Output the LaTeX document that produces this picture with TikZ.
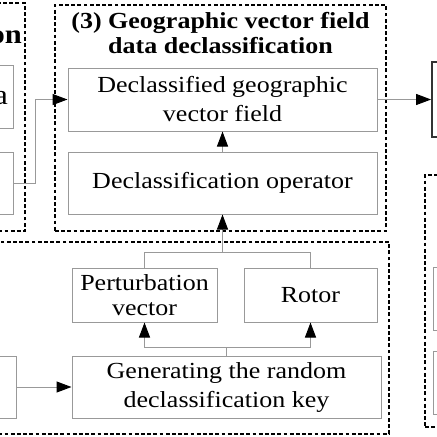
\documentclass[tikz,border=0pt]{standalone}
\usepackage{fontspec}
\setmainfont{Liberation Serif}[FakeStretch=1.13]
\usetikzlibrary{arrows.meta}
\begin{document}
\begin{tikzpicture}[x=1pt,y=-1pt,
  box/.style={draw=gray!80, line width=1pt, rectangle, inner sep=0pt, align=center,
    font=\fontsize{23}{29}\selectfont},
  darkbox/.style={draw=black!80, line width=1.8pt, rectangle, inner sep=0pt},
  group/.style={draw=black, line width=2.6pt, dash pattern=on 3.8pt off 2.4pt, rectangle, inner sep=0pt},
  conn/.style={draw=gray!80, line width=1pt},
  arr/.style={conn, -{Triangle[length=15pt,width=11pt,color=black]}},
  ttl/.style={font=\bfseries\fontsize{23}{25}\selectfont, align=center, inner sep=0pt},
]
\useasboundingbox (0,0) rectangle (437,437);
% dashed groups
\node[group, minimum width=225pt, minimum height=228pt] (g1) at (-87.5,117) {};
\node[group, minimum width=331pt, minimum height=226pt] (g3) at (220.5,118) {};
\node[group, minimum width=589pt, minimum height=192pt] (g2) at (94.5,338) {};
\node[group, minimum width=175pt, minimum height=252pt] (g4) at (512.5,301) {};
% titles
\node[ttl, anchor=north] (t3) at (220.5,12) {(3) Geographic vector field\\data declassification};
\node[font=\bfseries\fontsize{27}{27}\selectfont, inner sep=0pt, anchor=base east] (t1) at (22,43) {on};
% boxes
\node[box, minimum width=309pt, minimum height=63pt] (decl) at (222.5,99.5) {Declassified geographic\\vector field};
\node[box, minimum width=309pt, minimum height=62pt] (oper) at (222.5,183) {Declassification operator};
\node[box, minimum width=145pt, minimum height=54pt, font=\fontsize{23}{25}\selectfont] (pert) at (144.5,295) {Perturbation\\vector};
\node[box, minimum width=133pt, minimum height=54pt] (rotor) at (310.5,295) {Rotor};
\node[box, minimum width=309pt, minimum height=62pt] (gen) at (226.5,387) {Generating the random\\declassification key};
\node[box, minimum width=113pt, minimum height=63pt] (leftA) at (-43.5,96.5) {};
\node[font=\fontsize{28}{28}\selectfont, inner sep=0pt, anchor=base east] (ta) at (8,104) {a};
\node[box, minimum width=113pt, minimum height=62pt] (leftB) at (-43.5,183) {};
\node[box, minimum width=116pt, minimum height=62pt] (leftC) at (-42,387) {};
\node[darkbox, minimum width=108pt, minimum height=75pt] (rightA) at (486,99.5) {};
\node[box, minimum width=107pt, minimum height=63pt] (rightB) at (486.5,298.5) {};
\node[box, minimum width=107pt, minimum height=63pt] (rightC) at (486.5,382.5) {};
% connectors
\draw[arr] (leftB.east) -- ++(22,0) |- (decl.west);
\draw[arr] (decl.east) -- (rightA.west);
\draw[arr] (oper.north) -- (decl.south);
\coordinate (jt) at (222.5,252);
\draw[conn] (pert.north) -- (pert.north |- jt) -- (rotor.north |- jt) -- (rotor.north);
\draw[arr] (jt) -- (oper.south);
\coordinate (jb) at (226.5,347);
\draw[conn] (gen.north) -- (jb);
\draw[arr] (jb) -| (pert.south);
\draw[arr] (jb) -| (rotor.south);
\draw[arr] (leftC.east) -- (gen.west);
\end{tikzpicture}
\end{document}
